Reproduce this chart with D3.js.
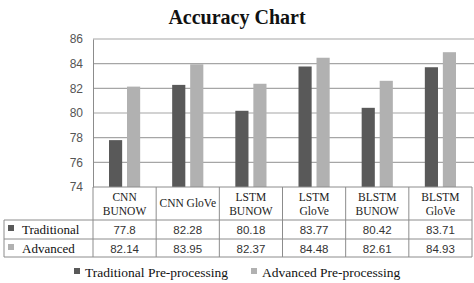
<!DOCTYPE html>
<html>
<head>
<meta charset="utf-8">
<script src="https://cdn.jsdelivr.net/npm/d3@7"></script>
<style>
  body { margin: 0; background: #fff; }
  svg { display: block; }
</style>
</head>
<body>
<div id="chart"></div>
<script>
const categories = ["CNN BUNOW", "CNN GloVe", "LSTM BUNOW", "LSTM GloVe", "BLSTM BUNOW", "BLSTM GloVe"];
const categoryLines = [["CNN", "BUNOW"], ["CNN GloVe"], ["LSTM", "BUNOW"], ["LSTM", "GloVe"], ["BLSTM", "BUNOW"], ["BLSTM", "GloVe"]];
const traditional = [77.8, 82.28, 80.18, 83.77, 80.42, 83.71];
const advanced = [82.14, 83.95, 82.37, 84.48, 82.61, 84.93];
const yTicks = [74, 76, 78, 80, 82, 84, 86];
const seriesNames = ["Traditional", "Advanced"];
const legendNames = ["Traditional Pre-processing", "Advanced Pre-processing"];

const W = 474, H = 283;
const colors = { Traditional: "#595959", Advanced: "#b1b1b1" };
const serif = "'Liberation Serif', 'Times New Roman', serif";
const sans = "'Liberation Sans', Arial, sans-serif";

const plotLeft = 93, plotRight = 472, plotTop = 39, plotBottom = 187;
const headerBottom = 220, row1Bottom = 239, row2Bottom = 257, tableLeft = 4;

const svg = d3.select("#chart").append("svg")
    .attr("width", W)
    .attr("height", H);

const x0 = d3.scaleBand().domain(categories).range([plotLeft, plotRight]);
const x1 = d3.scaleBand().domain(seriesNames)
    .range([16, x0.bandwidth() - 16]).paddingInner(0.27);
const y = d3.scaleLinear().domain([74, 86]).range([plotBottom, plotTop]);

// title
svg.append("text")
    .attr("x", 237).attr("y", 24)
    .attr("text-anchor", "middle")
    .style("font-family", serif)
    .style("font-weight", "bold")
    .style("font-size", "20px")
    .attr("fill", "#111")
    .text("Accuracy Chart");

// gridlines
svg.append("g")
    .selectAll("line")
    .data(yTicks.slice(1))
    .enter().append("line")
    .attr("x1", plotLeft).attr("x2", W)
    .attr("y1", d => y(d)).attr("y2", d => y(d))
    .attr("stroke", "#a6a6a6")
    .attr("stroke-width", 1.2);

// y axis
const yAxis = d3.axisLeft(y).tickValues(yTicks).tickSize(0).tickPadding(10);
const gy = svg.append("g")
    .attr("transform", "translate(" + plotLeft + ",0)")
    .call(yAxis);
gy.select(".domain").attr("stroke", "#8c8c8c");
gy.selectAll("text")
    .style("font-family", sans)
    .style("font-size", "12px")
    .attr("fill", "#555");

// bars
const rows = categories.map((c, i) => ({ cat: c, values: [
    { s: "Traditional", v: traditional[i] },
    { s: "Advanced", v: advanced[i] }
] }));

svg.append("g")
    .selectAll("g")
    .data(rows)
    .enter().append("g")
    .attr("transform", d => "translate(" + x0(d.cat) + ",0)")
    .selectAll("rect")
    .data(d => d.values)
    .enter().append("rect")
    .attr("x", d => x1(d.s))
    .attr("y", d => y(d.v))
    .attr("width", x1.bandwidth())
    .attr("height", d => plotBottom - y(d.v))
    .attr("fill", d => colors[d.s]);

// data table
const tbl = svg.append("g")
    .attr("stroke", "#8c8c8c")
    .attr("stroke-width", 1);

tbl.append("line").attr("x1", plotLeft).attr("x2", plotRight)
    .attr("y1", plotBottom).attr("y2", plotBottom);
[headerBottom, row1Bottom, row2Bottom].forEach(yy => {
    tbl.append("line").attr("x1", tableLeft).attr("x2", plotRight)
        .attr("y1", yy).attr("y2", yy);
});
tbl.append("line").attr("x1", tableLeft).attr("x2", tableLeft)
    .attr("y1", headerBottom).attr("y2", row2Bottom);
categories.forEach(c => {
    tbl.append("line").attr("x1", x0(c)).attr("x2", x0(c))
        .attr("y1", plotBottom).attr("y2", row2Bottom);
});
tbl.append("line").attr("x1", plotRight).attr("x2", plotRight)
    .attr("y1", plotBottom).attr("y2", row2Bottom);

// header labels
const header = svg.append("g");
categories.forEach((c, i) => {
    const lines = categoryLines[i];
    const cx = x0(c) + x0.bandwidth() / 2;
    const t = header.append("text")
        .attr("text-anchor", "middle")
        .style("font-family", serif)
        .style("font-size", "11.5px")
        .attr("fill", "#222");
    if (lines.length === 1) {
        t.append("tspan").attr("x", cx).attr("y", 207).text(lines[0]);
    } else {
        t.append("tspan").attr("x", cx).attr("y", 201).text(lines[0]);
        t.append("tspan").attr("x", cx).attr("y", 215).text(lines[1]);
    }
});

// values
const tableRows = [
    { name: "Traditional", vals: traditional, y: 234 },
    { name: "Advanced", vals: advanced, y: 253 }
];
tableRows.forEach(r => {
    svg.append("rect")
        .attr("x", 8).attr("y", r.y - 9)
        .attr("width", 6).attr("height", 6)
        .attr("fill", colors[r.name]);
    svg.append("text")
        .attr("x", 22).attr("y", r.y)
        .style("font-family", serif)
        .style("font-size", "13px")
        .attr("fill", "#111")
        .text(r.name);
    svg.append("g")
        .selectAll("text")
        .data(r.vals)
        .enter().append("text")
        .attr("x", (d, i) => x0(categories[i]) + x0.bandwidth() / 2)
        .attr("y", r.y)
        .attr("text-anchor", "middle")
        .style("font-family", sans)
        .style("font-size", "11.5px")
        .attr("fill", "#333")
        .text(d => d);
});

// legend
const legendX = [74, 251];
legendNames.forEach((n, i) => {
    svg.append("rect")
        .attr("x", legendX[i]).attr("y", 268)
        .attr("width", 6).attr("height", 6)
        .attr("fill", colors[seriesNames[i]]);
    svg.append("text")
        .attr("x", legendX[i] + 11).attr("y", 277)
        .style("font-family", serif)
        .style("font-size", "13.5px")
        .attr("fill", "#111")
        .text(n);
});
</script>
</body>
</html>
